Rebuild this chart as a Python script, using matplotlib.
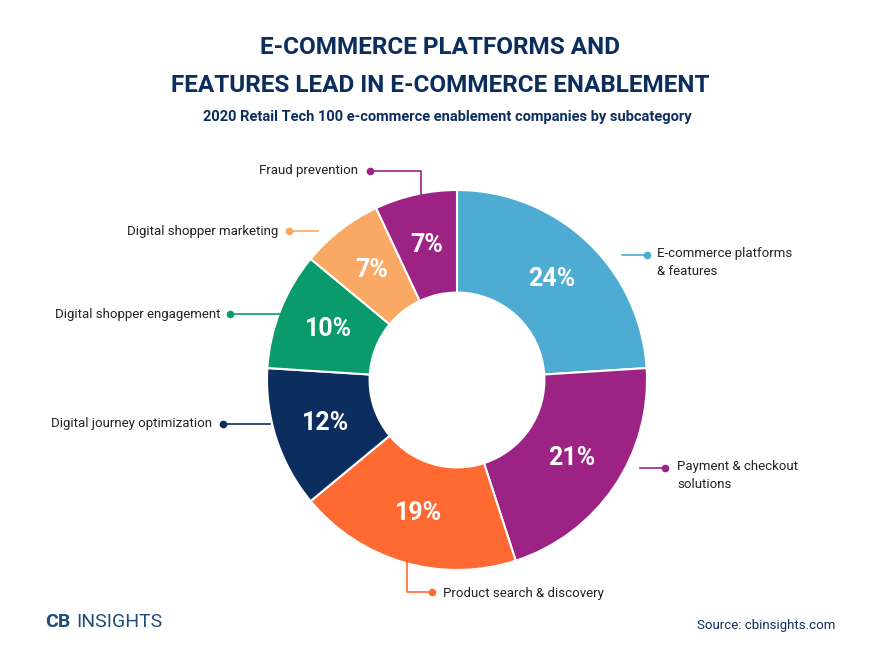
import numpy as np
import matplotlib.pyplot as plt
from matplotlib.lines import Line2D

# data
categories = ["E-commerce platforms\n& features", "Payment & checkout\nsolutions",
              "Product search & discovery", "Digital journey optimization",
              "Digital shopper engagement", "Digital shopper marketing",
              "Fraud prevention"]
shares = [24, 21, 19, 12, 10, 7, 7]
colors = ["#4EACD3", "#9C2283", "#FF6A33", "#0C2E5F", "#0A9B6D", "#F9A964", "#9C2283"]

W, H = 880, 660
NAVY = "#0C2E5F"
fig = plt.figure(figsize=(8.8, 6.6), dpi=100)

def fx(x):
    return x / W

def fy(y):
    return 1 - y / H

# donut axes placed in pixels
cx, cy, R = 457, 380, 190
ax = fig.add_axes([fx(cx - R), fy(cy + R), 2 * R / W, 2 * R / H])
wedges, _ = ax.pie(shares, colors=colors, startangle=90, counterclock=False,
                   radius=1, wedgeprops=dict(width=0.54, edgecolor="white", linewidth=1.5))
ax.set_xlim(-1, 1)
ax.set_ylim(-1, 1)

# percentage labels
for w, s in zip(wedges, shares):
    ang = np.deg2rad((w.theta1 + w.theta2) / 2)
    ax.text(0.73 * np.cos(ang), 0.73 * np.sin(ang), f"{s}%", color="white",
            fontsize=18, fontweight="bold", ha="center", va="center", family="Roboto")

# connector lines (pixel paths), dot at end, label position
connectors = [
    ([(622, 255), (647, 255)], (657, 255), "left"),
    ([(640, 468), (665, 468)], (677, 468), "left"),
    ([(407, 560), (407, 592), (432, 592)], (443, 593), "left"),
    ([(270, 424), (223, 424)], (212, 424), "right"),
    ([(280, 314), (230, 314)], (220, 314), "right"),
    ([(318, 231), (289, 231)], (278, 231), "right"),
    ([(421, 196), (421, 171), (370, 171)], (358, 171), "right"),
]
for (pts, (tx, ty), ha), lab, col in zip(connectors, categories, colors):
    xs = [fx(p[0]) for p in pts]
    ys = [fy(p[1]) for p in pts]
    fig.add_artist(Line2D(xs, ys, color=col, lw=1.2, transform=fig.transFigure))
    fig.add_artist(Line2D([xs[-1]], [ys[-1]], marker="o", ms=4.5, color=col,
                          transform=fig.transFigure))
    multi = "\n" in lab
    fig.text(fx(tx), fy(ty - 8) if multi else fy(ty), lab, ha=ha,
             va="top" if multi else "center",
             fontsize=9.5, color="#222222", linespacing=1.5, family="Roboto")

# titles
fig.text(0.5, fy(48), "E-COMMERCE PLATFORMS AND", ha="center", va="center",
         fontsize=17.5, fontweight="bold", color=NAVY, family="Roboto")
fig.text(0.5, fy(85), "FEATURES LEAD IN E-COMMERCE ENABLEMENT", ha="center", va="center",
         fontsize=17.5, fontweight="bold", color=NAVY, family="Roboto")
fig.text(fx(447), fy(117), "2020 Retail Tech 100 e-commerce enablement companies by subcategory",
         ha="center", va="center", fontsize=10.5, fontweight="bold", color=NAVY,
         family="Roboto")

# footer
fig.text(fx(45), fy(622), "CB", ha="left", va="center", fontsize=14,
         fontweight="bold", color="#1F4E79", family="Roboto")
fig.text(fx(76), fy(622), "INSIGHTS", ha="left", va="center", fontsize=14,
         color="#1F4E79", family="Roboto")
fig.text(fx(835), fy(626), "Source: cbinsights.com", ha="right", va="center",
         fontsize=9.5, color=NAVY, family="Roboto")

fig.savefig("out.png", dpi=100)
